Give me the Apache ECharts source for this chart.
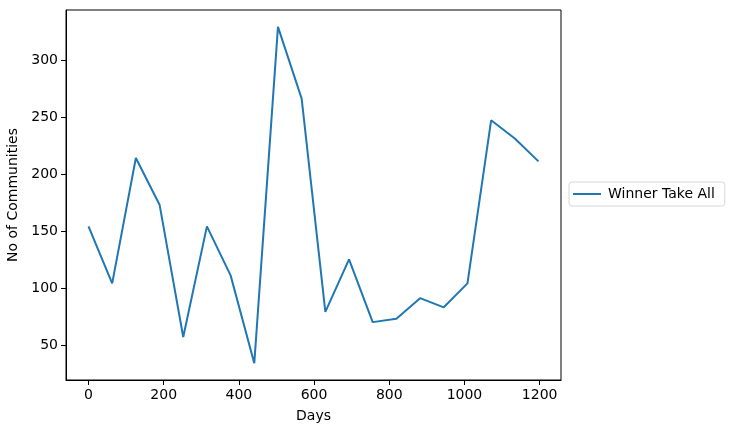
<!DOCTYPE html>
<html>
<head>
<meta charset="utf-8">
<script src="https://cdn.jsdelivr.net/npm/echarts@6/dist/echarts.min.js"></script>
<style>
  html, body { margin: 0; padding: 0; background: #fff; }
  #chart { width: 734px; height: 432px; }
</style>
</head>
<body>
<div id="chart"></div>
<script>
// data
var days = [0, 63, 126, 189, 252, 315, 378, 441, 504, 567, 630, 693, 756, 819, 882, 945, 1008, 1071, 1134, 1197];
var communities = [154, 104, 214, 173, 57, 154, 111, 34, 329, 266, 79, 125, 70, 73, 91, 83, 104, 247, 231, 211];
var xTicks = [0, 200, 400, 600, 800, 1000, 1200];
var yTicks = [50, 100, 150, 200, 250, 300];

var points = days.map(function (d, i) { return [d, communities[i]]; });

var font = 'DejaVu Sans';
var plain = function (v) { return String(v); };
var chart = echarts.init(document.getElementById('chart'));
chart.setOption({
  animation: false,
  textStyle: { fontFamily: font },
  grid: {
    left: 66, right: 173, top: 10, bottom: 52,
    outerBoundsMode: 'none', containLabel: false,
    show: true, borderColor: '#000', borderWidth: 1, backgroundColor: '#fff'
  },
  legend: {
    data: ['Winner Take All'],
    orient: 'vertical',
    left: 569, top: 182,
    itemWidth: 28, itemHeight: 2, itemGap: 4,
    icon: 'rect',
    padding: [5, 10, 5, 4],
    borderColor: '#d6d6d6', borderWidth: 1, borderRadius: 3,
    backgroundColor: '#fff',
    textStyle: { fontFamily: font, fontSize: 14, color: '#000', padding: [0, 0, 0, 2] }
  },
  xAxis: {
    type: 'value',
    min: -59.85, max: 1256.85,
    name: 'Days', nameLocation: 'middle', nameGap: 29,
    nameTextStyle: { fontFamily: font, fontSize: 14, color: '#000' },
    splitLine: { show: false },
    axisLine: { show: true, onZero: false, lineStyle: { color: '#000', width: 1 } },
    axisTick: { show: true, length: 5, lineStyle: { color: '#000' }, customValues: xTicks },
    axisLabel: { fontFamily: font, fontSize: 14, color: '#000', margin: 8, customValues: xTicks, formatter: plain }
  },
  yAxis: {
    type: 'value',
    min: 19.25, max: 343.75,
    name: 'No of Communities', nameLocation: 'middle', nameGap: 43,
    nameTextStyle: { fontFamily: font, fontSize: 14, color: '#000' },
    splitLine: { show: false },
    axisLine: { show: true, onZero: false, lineStyle: { color: '#000', width: 1 } },
    axisTick: { show: true, length: 5, lineStyle: { color: '#000' }, customValues: yTicks },
    axisLabel: { fontFamily: font, fontSize: 14, color: '#000', margin: 8, customValues: yTicks, formatter: plain }
  },
  series: [{
    name: 'Winner Take All',
    type: 'line',
    data: points,
    showSymbol: false,
    lineStyle: { color: '#1f77b4', width: 2 },
    itemStyle: { color: '#1f77b4' }
  }]
});
</script>
</body>
</html>
